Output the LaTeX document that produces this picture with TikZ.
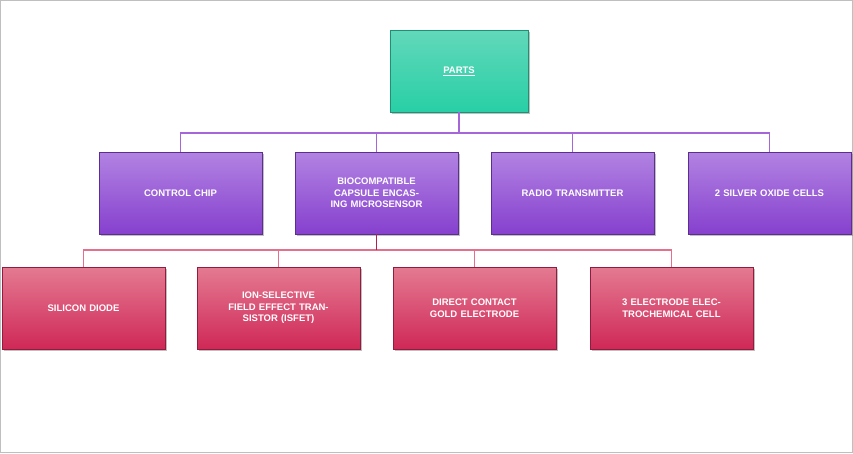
\documentclass[tikz,border=0pt]{standalone}
\usepackage{fontspec}
\setmainfont{Liberation Sans}
\usetikzlibrary{shadows}
\definecolor{tealA}{HTML}{62D8BA}\definecolor{tealB}{HTML}{28CFA6}
\definecolor{purA}{HTML}{B283E2}\definecolor{purB}{HTML}{8640CE}
\definecolor{pinA}{HTML}{E47A92}\definecolor{pinB}{HTML}{CF2857}
\definecolor{purL}{HTML}{A566DA}\definecolor{pinL}{HTML}{E4708E}
\tikzset{x=1pt,y=-1pt,
 box/.style={minimum width=163pt,minimum height=82pt,text width=120pt,align=center,
   text=white,font=\fontsize{9.5}{11.5}\selectfont\bfseries,inner sep=0pt,
   drop shadow={shadow xshift=1.5pt,shadow yshift=-1.5pt,opacity=0.5}},
 topbox/.style={box,minimum width=138pt,top color=tealA,bottom color=tealB,draw=tealB!70!black,line width=0.6pt},
 pbox/.style={box,top color=purA,bottom color=purB,draw=purB!70!black,line width=0.6pt},
 rbox/.style={box,top color=pinA,bottom color=pinB,draw=pinB!70!black,line width=0.6pt},
 pl/.style={purL,line width=1.2pt},
 rl/.style={pinL,line width=1.2pt}}
\begin{document}
\begin{tikzpicture}
\draw[gray!50,fill=white] (0.5,0.5) rectangle (852.5,452.5);
\useasboundingbox (0,0) rectangle (853,453);
\node[topbox] (top) at (459,71) {\underline{PARTS}};
\node[pbox] (c1) at (180.5,193) {CONTROL CHIP};
\node[pbox] (c2) at (376.5,193) {BIOCOMPATIBLE CAPSULE ENCASING MICROSENSOR};
\node[pbox] (c3) at (572.5,193) {RADIO TRANSMITTER};
\node[pbox] (c4) at (769.5,193) {2 SILVER OXIDE CELLS};
\node[rbox] (d1) at (83.5,308) {SILICON DIODE};
\node[rbox] (d2) at (278.5,308) {ION-SELECTIVE FIELD EFFECT TRANSISTOR (ISFET)};
\node[rbox] (d3) at (474.5,308) {DIRECT CONTACT GOLD ELECTRODE};
\node[rbox] (d4) at (671.5,308) {3 ELECTRODE ELECTROCHEMICAL CELL};
\begin{scope}[on background layer/.try]
\end{scope}
\foreach \n in {c1,c2,c3,c4}{\draw[pl] (top.south) |- (459,133) -| (\n.north);}
\foreach \n in {d1,d2,d3,d4}{\draw[rl] (c2.south) |- (376.5,250) -| (\n.north);}
\draw[pinB!85!black,line width=1.2pt] (c2.south) -- (376.5,250);
\end{tikzpicture}
\end{document}
